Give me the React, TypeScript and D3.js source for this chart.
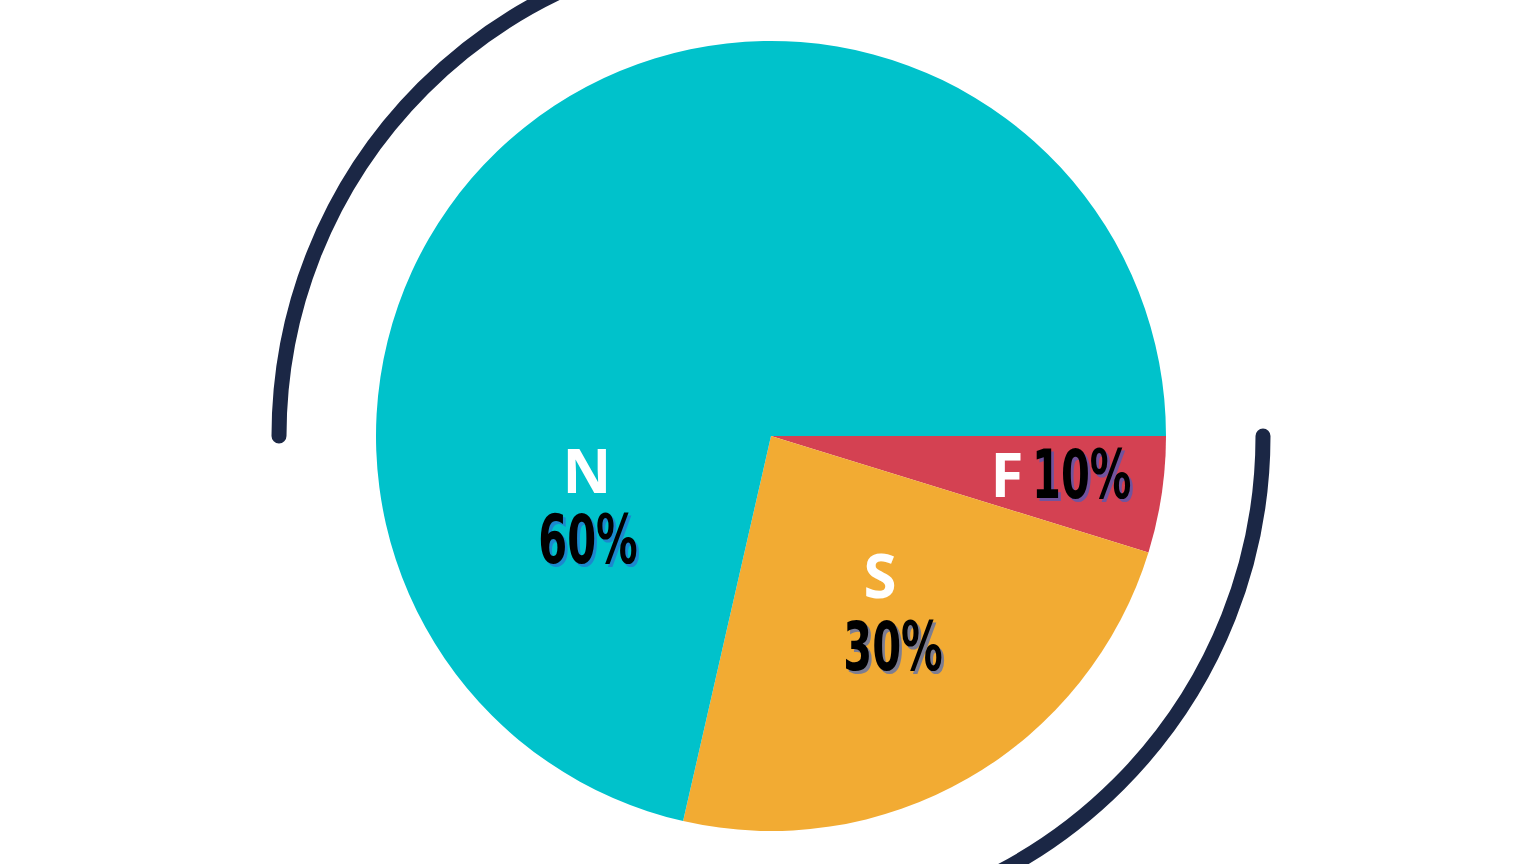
import * as d3 from "d3";

// slice values (drawn sizes) and their printed labels
const categories = ["F", "S", "N"];
const values = [1, 5, 15];
const percentLabels = ["10%", "30%", "60%"];
const colors = ["#d44152", "#f2ab33", "#00c2cb"];

interface Slice {
  name: string;
  value: number;
  pct: string;
  color: string;
}

const slices: Slice[] = categories.map((c, i) => ({
  name: c,
  value: values[i],
  pct: percentLabels[i],
  color: colors[i],
}));

export default function App() {
  const w = 1536,
    h = 864,
    cx = 771,
    cy = 436,
    r = 395,
    ringR = 492;

  const pie = d3
    .pie<Slice>()
    .sort(null)
    .value((d) => d.value)
    .startAngle(Math.PI / 2)
    .endAngle(Math.PI / 2 + 2 * Math.PI);

  const arc = d3.arc<d3.PieArcDatum<Slice>>().innerRadius(0).outerRadius(r);
  const arcs = pie(slices);

  // decorative ring pieces (angles in d3 convention, 0 = 12 o'clock)
  const ring = (a0: number, a1: number) => {
    const p = d3.path();
    const s = a0 - Math.PI / 2,
      e = a1 - Math.PI / 2;
    p.moveTo(ringR * Math.cos(s), ringR * Math.sin(s));
    p.arc(0, 0, ringR, s, e, false);
    return p.toString();
  };

  // label layout relative to the pie centre
  const layout: Record<string, { lx: number; ly: number; px: number; py: number; anchor: string }> = {
    N: { lx: -184, ly: 57, px: -183, py: 127, anchor: "middle" },
    S: { lx: 109, ly: 162, px: 122, py: 234, anchor: "middle" },
    F: { lx: 236, ly: 61, px: 261, py: 62, anchor: "start" },
  };

  const letterFont = "'Open Sans', 'Noto Sans', sans-serif";
  const pctFont = "'DejaVu Sans Condensed', 'DejaVu Sans', sans-serif";

  return (
    <svg
      width={w}
      height={h}
      style={{ position: "absolute", left: 0, top: 0, background: "#fff" }}
    >
      <g transform={`translate(${cx},${cy})`}>
        <path
          d={ring(-Math.PI / 2, 0)}
          fill="none"
          stroke="#1b2745"
          strokeWidth={15}
          strokeLinecap="round"
        />
        <path
          d={ring(Math.PI / 2, Math.PI)}
          fill="none"
          stroke="#1b2745"
          strokeWidth={15}
          strokeLinecap="round"
        />
        {arcs.map((a) => (
          <path key={a.data.name} d={arc(a) ?? ""} fill={a.data.color} />
        ))}
        {arcs.map((a) => {
          const l = layout[a.data.name];
          return (
            <g key={"lbl" + a.data.name}>
              <text
                x={l.lx}
                y={l.ly}
                textAnchor="middle"
                fill="#fff"
                fontFamily={letterFont}
                fontWeight={700}
                fontSize={60}
              >
                {a.data.name}
              </text>
              <g transform={`translate(${l.px},${l.py}) scale(0.68,1)`}>
                <text
                  x={4}
                  y={3}
                  textAnchor={l.anchor}
                  fill="#2f5fd0"
                  fillOpacity={0.6}
                  fontFamily={pctFont}
                  fontWeight={700}
                  fontSize={68}
                >
                  {a.data.pct}
                </text>
                <text
                  x={0}
                  y={0}
                  textAnchor={l.anchor}
                  fill="#000"
                  fontFamily={pctFont}
                  fontWeight={700}
                  fontSize={68}
                >
                  {a.data.pct}
                </text>
              </g>
            </g>
          );
        })}
      </g>
    </svg>
  );
}
